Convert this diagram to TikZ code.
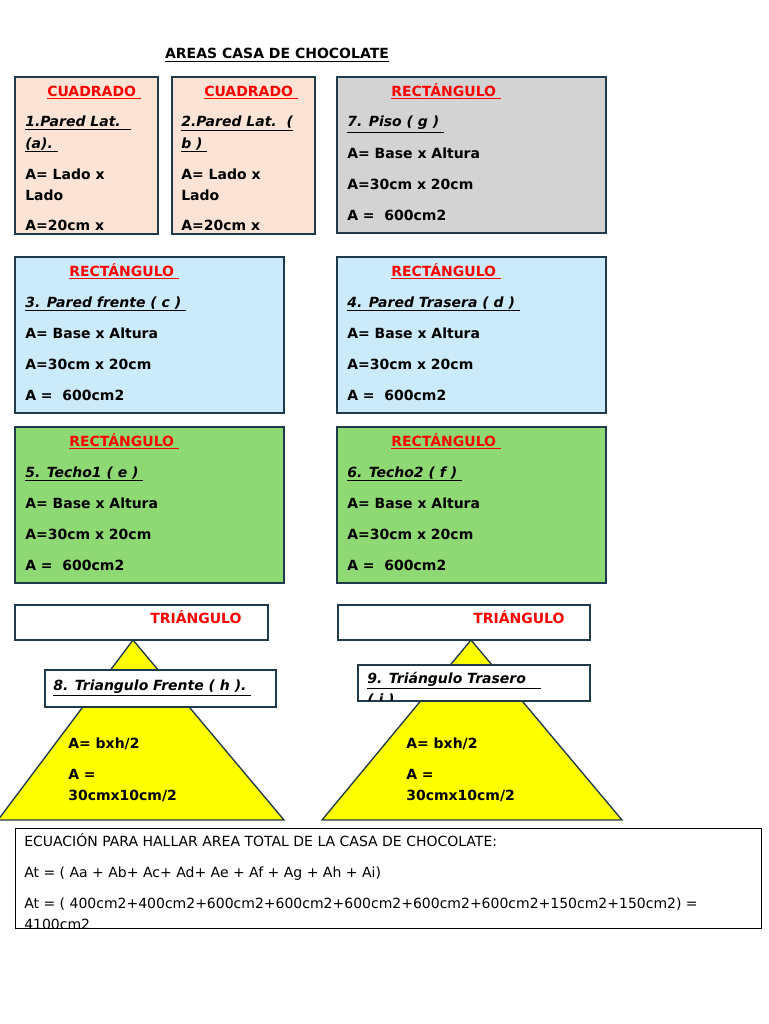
\documentclass[tikz,border=0pt]{standalone}
\usepackage{fontspec}
\setmainfont{DejaVu Sans}
\usetikzlibrary{positioning}
\definecolor{borde}{HTML}{1F3A4A}
\definecolor{durazno}{HTML}{FBE3D6}
\definecolor{gris}{HTML}{D3D3D3}
\definecolor{celeste}{HTML}{CCEBFA}
\definecolor{verde}{HTML}{8ED973}
\definecolor{amarillo}{HTML}{FFFF00}
\begin{document}
\begin{tikzpicture}[x=0.75pt,y=-0.75pt,
					caja/.style={draw=borde, line width=1pt},
					titulo/.style={anchor=base west, inner sep=0pt, text=red, font=\fontsize{10.5}{12}\selectfont\bfseries},
					nombre/.style={anchor=base west, inner sep=0pt, font=\fontsize{10.5}{12}\selectfont\bfseries\itshape},
					linea/.style={anchor=base west, inner sep=0pt, font=\fontsize{10.5}{12}\selectfont\bfseries},
					plano/.style={anchor=base west, inner sep=0pt, font=\fontsize{10.5}{12}\selectfont}]
    \useasboundingbox (0,0) rectangle (768,1024);
    % Titulo
    \node [linea, anchor=base] (T) at (277,59){\underline{AREAS CASA DE CHOCOLATE}};
    % Cuadrados
    \filldraw [caja, fill=durazno] (15,77) rectangle (158,234);
    \filldraw [caja, fill=durazno] (172,77) rectangle (315,234);
    \begin{scope}
    	\clip (15,77) rectangle (158,233);
    	\node [titulo] (a0) at (47,96){\underline{CUADRADO\ }};
    	\node [nombre] (a1) at (25,127){\underline{1.Pared Lat.\ \ }};
    	\node [nombre] (a2) at (25,148){\underline{(a).\ }};
    	\node [linea] (a3) at (25,179){A= Lado x};
    	\node [linea] (a4) at (25,200){Lado};
    	\node [linea] (a5) at (25,230){A=20cm x};
    \end{scope}
    \begin{scope}
    	\clip (172,77) rectangle (315,233);
    	\node [titulo] (b0) at (204,96){\underline{CUADRADO\ }};
    	\node [nombre] (b1) at (181,127){\underline{2.Pared Lat.\ \ (}};
    	\node [nombre] (b2) at (181,148){\underline{b )\ }};
    	\node [linea] (b3) at (181,179){A= Lado x};
    	\node [linea] (b4) at (181,200){Lado};
    	\node [linea] (b5) at (181,230){A=20cm x};
    \end{scope}
    % Rectangulos
    \foreach \x/\y/\col/\nom in {337/77/gris/7. Piso ( g ),
    		15/257/celeste/3. Pared frente ( c ),
    		337/257/celeste/4. Pared Trasera ( d ),
    		15/427/verde/5. Techo1 ( e ),
    		337/427/verde/6. Techo2 ( f )}{
    	\filldraw [caja, fill=\col] (\x,\y) rectangle ++(269,156);
    	\node [titulo] at (\x+54,\y+19){\underline{RECTÁNGULO\ }};
    	\node [nombre] at (\x+10,\y+50){\underline{\nom\ }};
    	\node [linea] at (\x+10,\y+81){A= Base x Altura};
    	\node [linea] at (\x+10,\y+112){A=30cm x 20cm};
    	\node [linea] at (\x+10,\y+143){A =\ \ 600cm2};
    }
    % Triangulos
    \filldraw [caja, fill=white] (15,605) rectangle (268,640);
    \node [titulo] (h0) at (150,623){TRIÁNGULO};
    \filldraw [caja, fill=amarillo] (133,640) -- (284,820) -- (-2,820) -- cycle;
    \filldraw [caja, fill=white] (45,670) rectangle (276,707);
    \node [nombre] (h1) at (53,690){\underline{8. Triangulo Frente ( h ).\ }};
    \node [linea] (h2) at (68,748){A= bxh/2};
    \node [linea] (h3) at (68,779){A =};
    \node [linea] (h4) at (68,800){30cmx10cm/2};
    \filldraw [caja, fill=white] (338,605) rectangle (590,640);
    \node [titulo] (i0) at (473,623){TRIÁNGULO};
    \filldraw [caja, fill=amarillo] (471,640) -- (622,820) -- (322,820) -- cycle;
    \filldraw [caja, fill=white] (358,665) rectangle (590,701);
    \begin{scope}
    	\clip (358,666) rectangle (590,700);
    	\node [nombre] (i1) at (367,683){\underline{9. Triángulo Trasero\ \ \ }};
    	\node [nombre] (i2) at (367,704){( i )};
    \end{scope}
    \node [linea] (i3) at (406,748){A= bxh/2};
    \node [linea] (i4) at (406,779){A =};
    \node [linea] (i5) at (406,800){30cmx10cm/2};
    % Ecuacion
    \draw [line width=0.6pt] (15,828) rectangle (761,928);
    \begin{scope}
    	\clip (15,829) rectangle (761,927);
    	\node [plano] (e1) at (24,846){ECUACIÓN PARA HALLAR AREA TOTAL DE LA CASA DE CHOCOLATE:};
    	\node [plano] (e2) at (24,877){At = ( Aa + Ab+ Ac+ Ad+ Ae + Af + Ag + Ah + Ai)};
    	\node [plano] (e3) at (24,908){At = ( 400cm2+400cm2+600cm2+600cm2+600cm2+600cm2+600cm2+150cm2+150cm2) =};
    	\node [plano] (e4) at (24,929){4100cm2};
    \end{scope}
\end{tikzpicture}
\end{document}
